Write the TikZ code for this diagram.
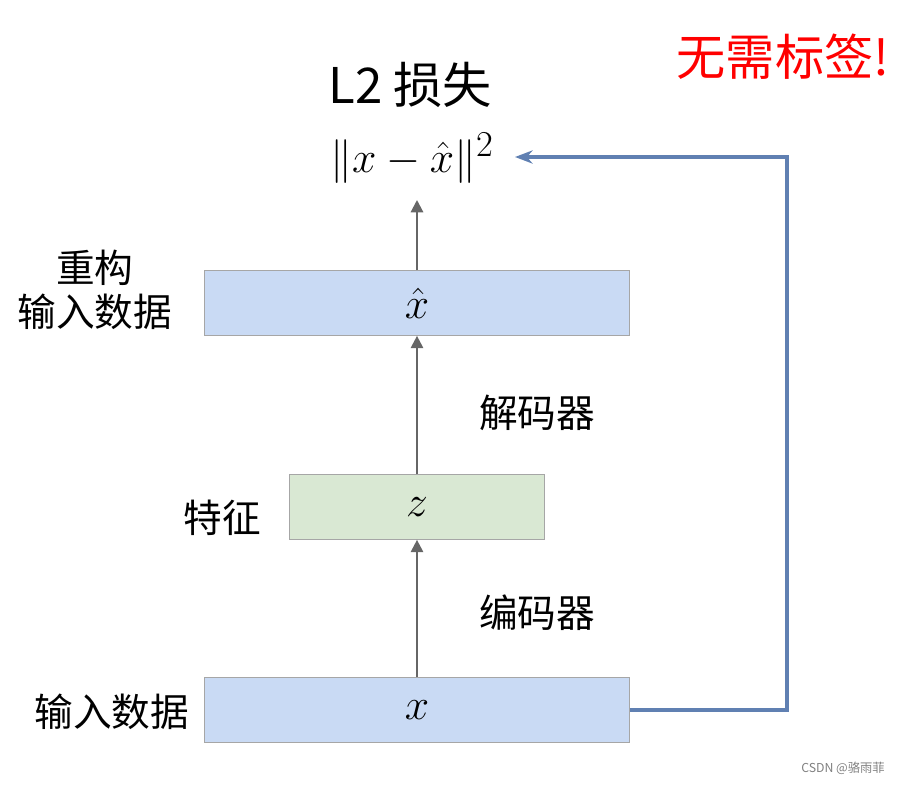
\documentclass[tikz,border=0pt]{standalone}
\usepackage{amsmath}
\usepackage{fontspec}
\newfontfamily\cjk{Noto Sans CJK SC}
\usetikzlibrary{positioning, arrows.meta}
\definecolor{boxblue}{RGB}{201,218,244}
\definecolor{boxgreen}{RGB}{217,232,211}
\definecolor{linkblue}{RGB}{96,128,178}
\tikzset{
  layer/.style={rectangle, draw=gray!70, minimum height=1.3cm, text centered, font=\fontsize{30}{34}\selectfont},
  arrow/.style={draw=gray!80!black, line width=1.2pt, -{Triangle[length=7pt, width=7pt]}},
  label/.style={font=\cjk\fontsize{22}{25}\selectfont, align=center}
}
\begin{document}
\begin{tikzpicture}[x=0.02cm, y=-0.02cm]
\useasboundingbox (0,0) rectangle (910,785);

% Layers
\node (xin) [layer, fill=boxblue, minimum width=8.5cm] at (417,710) {$x$};
\node (feat) [layer, fill=boxgreen, minimum width=5.1cm] at (417,507) {$z$};
\node (xrec) [layer, fill=boxblue, minimum width=8.5cm] at (417,303) {$\hat{x}$};
\node (loss) [font=\fontsize{29}{34}\selectfont] at (412,158) {$\|x-\hat{x}\|^2$};
\node (title) [font=\fontsize{28}{32}\selectfont\cjk] at (410,85) {L2 损失};

% Arrows
\draw [arrow] (xin) -- (feat);
\draw [arrow] (feat) -- (xrec);
\draw [arrow] (xrec.north) -- (417,200);

% Feedback
\coordinate (turn1) at (787,710);
\coordinate (turn2) at (787,157);
\draw [draw=linkblue, line width=1.8pt, -{Stealth[length=10pt]}] (xin.east) -- (turn1) -- (turn2) -- (515,157);

% Labels
\node (lrec) [label] at (95,290) {重构\\输入数据};
\node (lfeat) [label] at (222,518) {特征};
\node (lin) [label] at (112,712) {输入数据};
\node (ldec) [label] at (537,413) {解码器};
\node (lenc) [label] at (537,613) {编码器};
\node (note) [font=\cjk\fontsize{28}{32}\selectfont, text=red] at (783,57) {无需标签!};
\node (mark) [font=\cjk\fontsize{7}{8}\selectfont, text=gray] at (843,768) {CSDN @骆雨菲};
\end{tikzpicture}
\end{document}
